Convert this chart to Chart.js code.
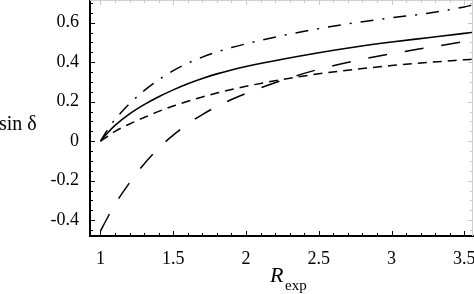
<!DOCTYPE html>
<html>
<head>
<meta charset="utf-8">
<script src="https://cdn.jsdelivr.net/npm/chart.js@4"></script>
<style>
  html, body { margin: 0; padding: 0; background: #fff; }
  #wrap { width: 474px; height: 294px; position: relative; }
</style>
</head>
<body>
<div id="wrap"><canvas id="chart"></canvas></div>
<script>
// valores
const rExp = [1, 1.05, 1.1, 1.2, 1.3, 1.4, 1.5, 1.6, 1.7, 1.8, 1.9, 2.0, 2.25, 2.5, 2.75, 3.0, 3.25, 3.5, 3.56];
const sinSolid   = [0, 0.043, 0.08, 0.138, 0.185, 0.225, 0.26, 0.291, 0.318, 0.341, 0.361, 0.378, 0.415, 0.448, 0.477, 0.502, 0.524, 0.546, 0.551];
const sinDashDot = [0, 0.06, 0.11, 0.19, 0.256, 0.311, 0.357, 0.395, 0.426, 0.452, 0.474, 0.493, 0.535, 0.57, 0.6, 0.625, 0.648, 0.68, 0.69];
const sinShort   = [0, 0.025, 0.05, 0.087, 0.12, 0.151, 0.178, 0.202, 0.224, 0.244, 0.262, 0.278, 0.313, 0.341, 0.364, 0.383, 0.399, 0.412, 0.415];
const sinLong    = [-0.455, -0.385, -0.32, -0.21, -0.115, -0.035, 0.031, 0.087, 0.135, 0.176, 0.211, 0.242, 0.309, 0.364, 0.407, 0.443, 0.474, 0.504, 0.511];

const xTicks = [1, 1.5, 2, 2.5, 3, 3.5];
const xTickLabels = ['1', '1.5', '2', '2.5', '3', '3.5'];
const yTicks = [-0.4, -0.2, 0, 0.2, 0.4, 0.6];
const yTickLabels = ['-0.4', '-0.2', '0', '0.2', '0.4', '0.6'];

const serif = "'Liberation Serif', 'DejaVu Serif', serif";

function pontos(ys) {
    return rExp.map((x, i) => ({ x: x, y: ys[i] }));
}

function serie(ys, dash, width) {
    return {
        data: pontos(ys),
        borderColor: '#000',
        borderWidth: width,
        borderDash: dash,
        pointRadius: 0,
        fill: false,
        cubicInterpolationMode: 'monotone'
    };
}

// moldura, marcas menores e rótulos dos eixos
const molduraPlugin = {
    id: 'moldura',
    afterDraw(chart) {
        const ctx = chart.ctx;
        const a = chart.chartArea;
        const xs = chart.scales.x;
        const ys = chart.scales.y;
        ctx.save();

        // topo e direita em cinza claro
        ctx.strokeStyle = '#d0d0d0';
        ctx.lineWidth = 1;
        ctx.beginPath();
        ctx.moveTo(a.left, a.top + 0.5);
        ctx.lineTo(a.right, a.top + 0.5);
        ctx.moveTo(a.right - 0.5, a.top);
        ctx.lineTo(a.right - 0.5, a.bottom);
        ctx.stroke();

        // marcas no eixo x
        for (let k = 10; k <= 35; k++) {
            const v = k / 10;
            const px = Math.round(xs.getPixelForValue(v)) + 0.5;
            const len = (k % 5 === 0) ? 5 : 3;
            ctx.strokeStyle = '#000';
            ctx.beginPath();
            ctx.moveTo(px, a.bottom);
            ctx.lineTo(px, a.bottom - len);
            ctx.stroke();
            ctx.strokeStyle = '#c8c8c8';
            ctx.beginPath();
            ctx.moveTo(px, a.top);
            ctx.lineTo(px, a.top + len);
            ctx.stroke();
        }
        // marcas no eixo y
        for (let k = -9; k <= 14; k++) {
            const v = k / 20;
            const py = Math.round(ys.getPixelForValue(v)) + 0.5;
            if (py < a.top || py > a.bottom) continue;
            const len = (k % 4 === 0) ? 5 : 3;
            ctx.strokeStyle = '#000';
            ctx.beginPath();
            ctx.moveTo(a.left, py);
            ctx.lineTo(a.left + len, py);
            ctx.stroke();
            ctx.strokeStyle = '#c8c8c8';
            ctx.beginPath();
            ctx.moveTo(a.right, py);
            ctx.lineTo(a.right - len, py);
            ctx.stroke();
        }

        // rótulos dos eixos
        ctx.fillStyle = '#000';
        ctx.textBaseline = 'alphabetic';
        ctx.textAlign = 'left';
        ctx.font = '20px ' + serif;
        ctx.fillText('sin δ', -1, 130);

        ctx.font = 'italic 22px ' + serif;
        ctx.fillText('R', 270, 282);
        ctx.font = '15px ' + serif;
        ctx.fillText('exp', 285, 290);
        ctx.restore();
    }
};

const ctx = document.getElementById('chart').getContext('2d');
new Chart(ctx, {
    type: 'line',
    data: {
        datasets: [
            serie(sinDashDot, [13, 9, 2, 9], 1.5),
            serie(sinSolid, [], 1.6),
            serie(sinShort, [9, 6], 1.5),
            serie(sinLong, [19, 18], 1.5)
        ]
    },
    options: {
        responsive: true,
        maintainAspectRatio: false,
        animation: false,
        layout: { padding: { top: 0, right: 1, left: 0, bottom: 0 } },
        plugins: {
            legend: { display: false },
            tooltip: { enabled: false }
        },
        scales: {
            x: {
                type: 'linear',
                min: 0.928,
                max: 3.56,
                afterFit: s => { s.height = 58; s.paddingLeft = 0; s.paddingRight = 0; },
                afterBuildTicks: s => { s.ticks = xTicks.map(v => ({ value: v })); },
                grid: { display: false, drawTicks: false },
                border: { display: true, color: '#000', width: 2 },
                ticks: {
                    padding: 12,
                    color: '#000',
                    maxRotation: 0,
                    font: { family: serif, size: 18 },
                    callback: (v) => xTickLabels[xTicks.indexOf(v)]
                }
            },
            y: {
                type: 'linear',
                min: -0.48,
                max: 0.715,
                afterFit: s => { s.width = 90; s.paddingTop = 0; s.paddingBottom = 0; },
                afterBuildTicks: s => { s.ticks = yTicks.map(v => ({ value: v })); },
                grid: { display: false, drawTicks: false },
                border: { display: true, color: '#000', width: 2 },
                ticks: {
                    padding: 11,
                    color: '#000',
                    font: { family: serif, size: 18 },
                    callback: (v) => yTickLabels[yTicks.indexOf(v)]
                }
            }
        }
    },
    plugins: [molduraPlugin]
});
</script>
</body>
</html>
